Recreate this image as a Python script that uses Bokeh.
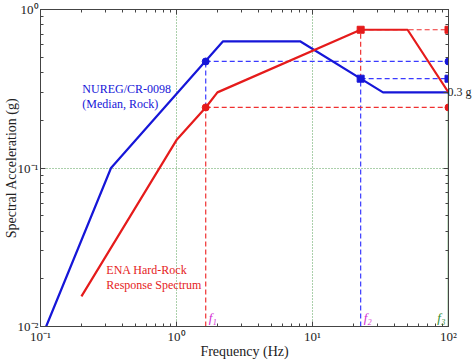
from bokeh.plotting import figure
from bokeh.models import (Label, LinearAxis, FixedTicker, CustomJSTickFormatter, Range1d)
from bokeh.embed import file_html
from bokeh.resources import INLINE

# ---- data ----
freq_nureg = [0.11, 0.33, 2.2, 8.1, 33.0, 100.0]
sa_nureg = [0.01, 0.10, 0.63, 0.63, 0.30, 0.30]

freq_ena = [0.2, 1.0, 1.64, 2.0, 22.6, 50.0, 100.0]
sa_ena = [0.0155, 0.15, 0.241, 0.30, 0.745, 0.745, 0.30]

f1 = 1.64
f2 = 22.6
f3 = 100.0
nureg_f1 = 0.47
nureg_f2 = 0.366
ena_f1 = 0.241
ena_f2 = 0.745
pga = 0.3
pga_label = "0.3 g"

x_decades = [0.1, 1.0, 10.0, 100.0]
y_decades = [0.01, 0.1, 1.0]

x_range = (0.1, 100.0)
y_range = (0.01, 1.0)

BLUE = "#1616d8"
RED = "#e51b1b"
DBLUE = "#3a3aff"
DRED = "#f03030"
GREEN = "#2e8b2e"
MAGENTA = "#d42ad4"
FONT = "Liberation Serif"
AXC = "#444444"


def minors(decades):
    return [d * k for d in decades[:-1] for k in range(2, 10)]


def ticker(decades):
    return FixedTicker(ticks=decades, minor_ticks=minors(decades))


p = figure(width=474, height=361, x_axis_type="log", y_axis_type="log",
           x_range=Range1d(*x_range), y_range=Range1d(*y_range),
           output_backend="svg", toolbar_location=None,
           min_border_left=0, min_border_right=0, min_border_top=9, min_border_bottom=0)
p.background_fill_color = "white"
p.border_fill_color = "white"
p.outline_line_color = AXC
p.outline_line_width = 1

fmt = CustomJSTickFormatter(code="""
const e = Math.round(Math.log10(tick));
const sup = {'-':'\\u207b','0':'\\u2070','1':'\\u00b9','2':'\\u00b2'};
return '10' + String(e).split('').map(c => sup[c]).join('');
""")

p.xaxis[0].ticker = ticker(x_decades)
p.yaxis[0].ticker = ticker(y_decades)
for ax in (p.xaxis[0], p.yaxis[0]):
    ax.formatter = fmt
    ax.major_tick_in = 5
    ax.major_tick_out = 0
    ax.minor_tick_in = 3
    ax.minor_tick_out = 0
    ax.axis_line_color = AXC
    ax.major_tick_line_color = AXC
    ax.minor_tick_line_color = AXC
    ax.major_label_text_font = FONT
    ax.major_label_text_font_size = "13px"
    ax.major_label_text_color = "#222222"
    ax.axis_label_text_font = FONT
    ax.axis_label_text_font_size = "14px"
    ax.axis_label_text_font_style = "normal"
    ax.axis_label_text_color = "#222222"

p.xaxis[0].major_label_standoff = 2
p.xaxis[0].axis_label_standoff = -3
p.yaxis[0].major_label_standoff = 2
p.yaxis[0].axis_label_standoff = -4

p.xaxis.axis_label = "Frequency (Hz)"
p.yaxis.axis_label = "Spectral Acceleration (g)"

# mirrored top axis (ticks only)
top = LinearAxis(ticker=ticker(x_decades))
top.major_label_text_font_size = "1px"
top.major_label_text_alpha = 0
top.major_label_standoff = 0
p.add_layout(top, "above")

# mirrored right axis; carries the "0.3 g" annotation as its only label
rticks = sorted(y_decades + [pga])
right = LinearAxis(ticker=FixedTicker(ticks=rticks, minor_ticks=minors(y_decades)))
right.formatter = CustomJSTickFormatter(
    args=dict(pga=pga, lab=pga_label),
    code="return Math.abs(tick - pga) < 1e-9 ? lab : '';")
right.major_label_text_font = FONT
right.major_label_text_font_size = "12px"
right.major_label_text_color = "#222222"
right.major_label_standoff = -1
p.add_layout(right, "right")

for ax in (top, right):
    ax.major_tick_in = 5
    ax.major_tick_out = 0
    ax.minor_tick_in = 3
    ax.minor_tick_out = 0
    ax.axis_line_color = AXC
    ax.major_tick_line_color = AXC
    ax.minor_tick_line_color = AXC

p.xgrid.grid_line_color = GREEN
p.xgrid.grid_line_dash = "1 2"
p.xgrid.grid_line_alpha = 0.8
p.ygrid.grid_line_color = GREEN
p.ygrid.grid_line_dash = "1 2"
p.ygrid.grid_line_alpha = 0.8

ybot = y_range[0]
xr = x_range[1]
DASH = "5 3"
DW = 1.2

# vertical dashed lines
p.segment(x0=[f1], y0=[ybot], x1=[f1], y1=[ena_f1], line_color=DRED, line_dash=DASH, line_width=DW)
p.segment(x0=[f1], y0=[ena_f1], x1=[f1], y1=[nureg_f1], line_color=DBLUE, line_dash=DASH, line_width=DW)
p.segment(x0=[f2], y0=[ybot], x1=[f2], y1=[nureg_f2], line_color=DBLUE, line_dash=DASH, line_width=DW)
p.segment(x0=[f2], y0=[nureg_f2], x1=[f2], y1=[ena_f2], line_color=DRED, line_dash=DASH, line_width=DW)

# horizontal dashed lines
p.segment(x0=[f1, f2], y0=[nureg_f1, nureg_f2], x1=[xr, xr], y1=[nureg_f1, nureg_f2],
          line_color=DBLUE, line_dash=DASH, line_width=DW)
p.segment(x0=[f1, f2], y0=[ena_f1, ena_f2], x1=[xr, xr], y1=[ena_f1, ena_f2],
          line_color=DRED, line_dash=DASH, line_width=DW)

# f3 green line
p.segment(x0=[f3], y0=[ybot], x1=[f3], y1=[pga], line_color=GREEN, line_width=1.5)

# spectra
p.line(freq_nureg, sa_nureg, line_color=BLUE, line_width=2.2)
p.line(freq_ena, sa_ena, line_color=RED, line_width=2.2)

# markers
p.scatter([f1, xr], [nureg_f1, nureg_f1], marker="circle", size=7, color=BLUE)
p.scatter([f2, xr], [nureg_f2, nureg_f2], marker="square", size=7, color=BLUE)
p.scatter([f1, xr], [ena_f1, ena_f1], marker="circle", size=7, color=RED)
p.scatter([f2, xr], [ena_f2, ena_f2], marker="square", size=7, color=RED)


def lab(x, y, text, color, size="12px", style="normal", align="left", baseline="middle", xo=0, yo=0):
    p.add_layout(Label(x=x, y=y, text=text, text_color=color, text_font=FONT,
                       text_font_size=size, text_font_style=style, text_align=align,
                       text_baseline=baseline, x_offset=xo, y_offset=yo))


lab(0.203, 0.314, "NUREG/CR-0098", BLUE)
lab(0.203, 0.252, "(Median, Rock)", BLUE)
lab(0.305, 0.0228, "ENA Hard-Rock", RED)
lab(0.305, 0.0184, "Response Spectrum", RED)

lab(f1, ybot, "f\u2081", MAGENTA, size="13px", style="italic", baseline="bottom", xo=3, yo=2)
lab(f2, ybot, "f\u2082", MAGENTA, size="13px", style="italic", baseline="bottom", xo=3, yo=2)
lab(f3, ybot, "f\u2083", GREEN, size="13px", style="italic", align="right", baseline="bottom", xo=-3, yo=2)

open("out.html", "w").write(file_html(p, INLINE))
